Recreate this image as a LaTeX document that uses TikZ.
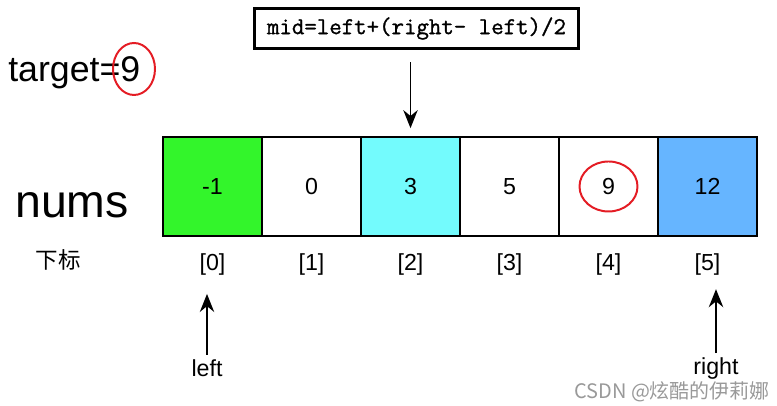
\documentclass[tikz,border=0pt]{standalone}
\usepackage{fontspec}
\setmainfont{Liberation Sans}
\newfontfamily\cjk{Noto Sans CJK SC}
\newfontfamily\codefont{Latin Modern Mono}[FakeBold=1.2]
\usepackage{xcolor}
\definecolor{cgreen}{RGB}{51,245,43}
\definecolor{ccyan}{RGB}{115,251,253}
\definecolor{cblue}{RGB}{102,181,255}
\definecolor{ringred}{RGB}{228,28,36}
\usetikzlibrary{positioning, arrows.meta}
\tikzstyle{cell} = [
    rectangle, text centered,
    draw=black,
    line width=1.2pt,
    minimum width=2.475cm,
    minimum height=2.475cm,
    font=\fontsize{16.5}{18}\selectfont,
]
\tikzstyle{index} = [
    font=\fontsize{16.5}{18}\selectfont,
]
\tikzstyle{pointer} = [
    font=\fontsize{16.5}{18}\selectfont,
]
\tikzstyle{formula} = [
    rectangle, draw=black,
    line width=2.1pt,
    minimum width=8.1cm,
    minimum height=1cm,
    font=\codefont\fontsize{17.2}{19}\selectfont,
]
\tikzstyle{ring} = [draw=ringred, line width=1.4pt]
\tikzstyle{arrow} = [-{Stealth[length=0.45cm,width=0.36cm]}, line width=1.2pt]

\begin{document}
\begin{tikzpicture}[x=0.025cm, y=0.025cm]
    \useasboundingbox (0,0) rectangle (777,406);

    % boxes
    \foreach \val/\col [count=\i from 0] in {-1/cgreen,0/white,3/ccyan,5/white,9/white,12/cblue} {
        \node (cell\i) at (212.5+99*\i, 219.5) [cell, fill=\col] {\val};
        \node (idx\i) at (212.5+99*\i, 141) [index] {[\i]};
    }
    \node (nums) at (15, 188) [anchor=base west, inner sep=0, font=\fontsize{33}{36}\selectfont] {nums};
    \node (target) at (8, 324) [anchor=base west, inner sep=0, font=\fontsize{25.4}{28}\selectfont] {target=9};
    \node (subscript) at (58, 146) [font=\cjk\fontsize{16}{18}\selectfont] {下标};
    \node (formula) at (416.5, 377.5) [formula] {mid=left+(right- left)/2};
    \node (ptrleft) at (207, 38) [pointer] {left};
    \node (ptrright) at (716, 37) [pointer] {right};
    \node (watermark) at (770, 14) [anchor=east, inner sep=0, text=black!40, font=\cjk\fontsize{14.2}{15}\selectfont] {CSDN @炫酷的伊莉娜};

    % rings
    \draw [ring] (134, 337) ellipse [x radius=21, y radius=26];
    \draw [ring] (cell4) ellipse [x radius=29, y radius=25];

    % arrows
    \draw [arrow, shorten <=0.31cm, shorten >=0.2cm] (formula.south -| cell2.north) to (cell2.north);
    \draw [arrow, shorten >=0.33cm] (ptrleft.north) to (ptrleft |- idx0.south);
    \draw [arrow, shorten >=0.21cm] (ptrright.north) to (ptrright |- idx5.south);

\end{tikzpicture}
\end{document}
